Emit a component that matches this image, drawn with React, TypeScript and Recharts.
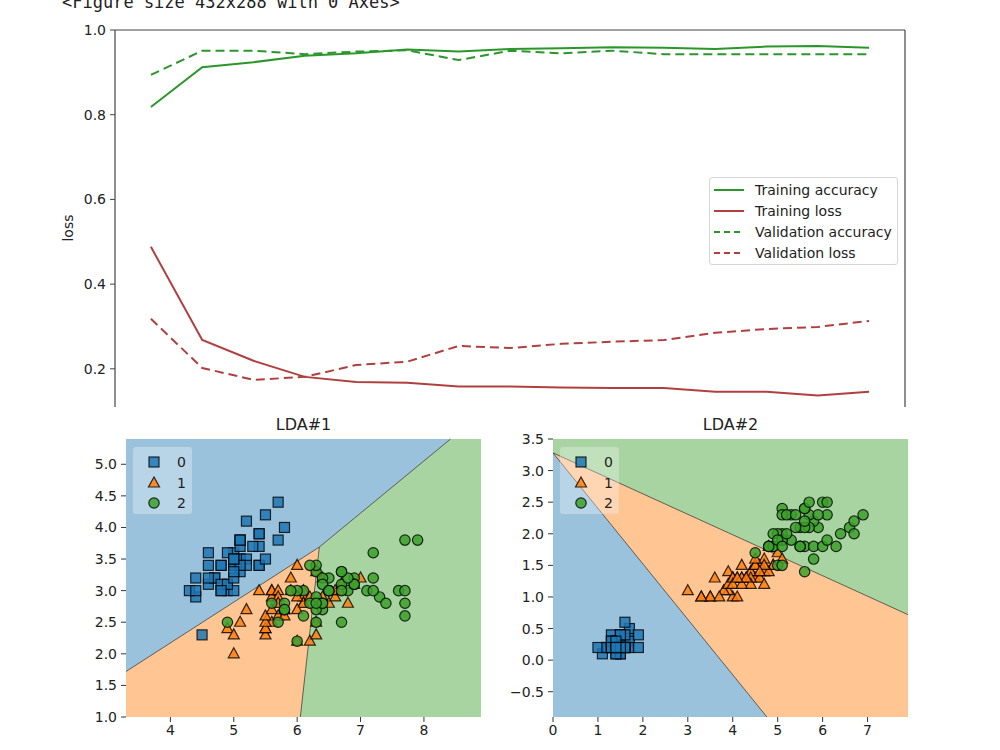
import React from 'react'
import {
  LineChart,
  Line,
  ComposedChart,
  Area,
  Scatter,
  XAxis,
  YAxis,
  CartesianGrid,
  ReferenceLine,
  Legend
} from 'recharts'

// --- training history ---
const epochs = [0, 1, 2, 3, 4, 5, 6, 7, 8, 9, 10, 11, 12, 13, 14]
const trainingAccuracy = [0.818, 0.912, 0.924, 0.939, 0.945, 0.954, 0.949, 0.955, 0.957, 0.959, 0.958, 0.955, 0.961, 0.962, 0.958]
const trainingLoss = [0.488, 0.268, 0.219, 0.181, 0.169, 0.167, 0.158, 0.158, 0.156, 0.155, 0.155, 0.146, 0.146, 0.137, 0.146]
const validationAccuracy = [0.894, 0.951, 0.951, 0.943, 0.949, 0.952, 0.929, 0.951, 0.945, 0.951, 0.943, 0.943, 0.943, 0.943, 0.943]
const validationLoss = [0.318, 0.202, 0.174, 0.181, 0.209, 0.217, 0.254, 0.249, 0.259, 0.264, 0.268, 0.285, 0.294, 0.299, 0.313]
const historyTicks = [0.2, 0.4, 0.6, 0.8, 1.0]

// --- iris rows: sepal length, sepal width, petal length, petal width ---
const setosa = [
  [5.1, 3.5, 1.4, 0.2], [4.9, 3.0, 1.4, 0.2], [4.7, 3.2, 1.3, 0.2], [4.6, 3.1, 1.5, 0.2], [5.0, 3.6, 1.4, 0.2],
  [5.4, 3.9, 1.7, 0.4], [4.6, 3.4, 1.4, 0.3], [5.0, 3.4, 1.5, 0.2], [4.4, 2.9, 1.4, 0.2], [4.9, 3.1, 1.5, 0.1],
  [5.4, 3.7, 1.5, 0.2], [4.8, 3.4, 1.6, 0.2], [4.8, 3.0, 1.4, 0.1], [4.3, 3.0, 1.1, 0.1], [5.8, 4.0, 1.2, 0.2],
  [5.7, 4.4, 1.5, 0.4], [5.4, 3.9, 1.3, 0.4], [5.1, 3.5, 1.4, 0.3], [5.7, 3.8, 1.7, 0.3], [5.1, 3.8, 1.5, 0.3],
  [5.4, 3.4, 1.7, 0.2], [5.1, 3.7, 1.5, 0.4], [4.6, 3.6, 1.0, 0.2], [5.1, 3.3, 1.7, 0.5], [4.8, 3.4, 1.9, 0.2],
  [5.0, 3.0, 1.6, 0.2], [5.0, 3.4, 1.6, 0.4], [5.2, 3.5, 1.5, 0.2], [5.2, 3.4, 1.4, 0.2], [4.7, 3.2, 1.6, 0.2],
  [4.8, 3.1, 1.6, 0.2], [5.4, 3.4, 1.5, 0.4], [5.2, 4.1, 1.5, 0.1], [5.5, 4.2, 1.4, 0.2], [4.9, 3.1, 1.5, 0.2],
  [5.0, 3.2, 1.2, 0.2], [5.5, 3.5, 1.3, 0.2], [4.9, 3.6, 1.4, 0.1], [4.4, 3.0, 1.3, 0.2], [5.1, 3.4, 1.5, 0.2],
  [5.0, 3.5, 1.3, 0.3], [4.5, 2.3, 1.3, 0.3], [4.4, 3.2, 1.3, 0.2], [5.0, 3.5, 1.6, 0.6], [5.1, 3.8, 1.9, 0.4],
  [4.8, 3.0, 1.4, 0.3], [5.1, 3.8, 1.6, 0.2], [4.6, 3.2, 1.4, 0.2], [5.3, 3.7, 1.5, 0.2], [5.0, 3.3, 1.4, 0.2]
]
const versicolor = [
  [7.0, 3.2, 4.7, 1.4], [6.4, 3.2, 4.5, 1.5], [6.9, 3.1, 4.9, 1.5], [5.5, 2.3, 4.0, 1.3], [6.5, 2.8, 4.6, 1.5],
  [5.7, 2.8, 4.5, 1.3], [6.3, 3.3, 4.7, 1.6], [4.9, 2.4, 3.3, 1.0], [6.6, 2.9, 4.6, 1.3], [5.2, 2.7, 3.9, 1.4],
  [5.0, 2.0, 3.5, 1.0], [5.9, 3.0, 4.2, 1.5], [6.0, 2.2, 4.0, 1.0], [6.1, 2.9, 4.7, 1.4], [5.6, 2.9, 3.6, 1.3],
  [6.7, 3.1, 4.4, 1.4], [5.6, 3.0, 4.5, 1.5], [5.8, 2.7, 4.1, 1.0], [6.2, 2.2, 4.5, 1.5], [5.6, 2.5, 3.9, 1.1],
  [5.9, 3.2, 4.8, 1.8], [6.1, 2.8, 4.0, 1.3], [6.3, 2.5, 4.9, 1.5], [6.1, 2.8, 4.7, 1.2], [6.4, 2.9, 4.3, 1.3],
  [6.6, 3.0, 4.4, 1.4], [6.8, 2.8, 4.8, 1.4], [6.7, 3.0, 5.0, 1.7], [6.0, 2.9, 4.5, 1.5], [5.7, 2.6, 3.5, 1.0],
  [5.5, 2.4, 3.8, 1.1], [5.5, 2.4, 3.7, 1.0], [5.8, 2.7, 3.9, 1.2], [6.0, 2.7, 5.1, 1.6], [5.4, 3.0, 4.5, 1.5],
  [6.0, 3.4, 4.5, 1.6], [6.7, 3.1, 4.7, 1.5], [6.3, 2.3, 4.4, 1.3], [5.6, 3.0, 4.1, 1.3], [5.5, 2.5, 4.0, 1.3],
  [5.5, 2.6, 4.4, 1.2], [6.1, 3.0, 4.6, 1.4], [5.8, 2.6, 4.0, 1.2], [5.0, 2.3, 3.3, 1.0], [5.6, 2.7, 4.2, 1.3],
  [5.7, 3.0, 4.2, 1.2], [5.7, 2.9, 4.2, 1.3], [6.2, 2.9, 4.3, 1.3], [5.1, 2.5, 3.0, 1.1], [5.7, 2.8, 4.1, 1.3]
]
const virginica = [
  [6.3, 3.3, 6.0, 2.5], [5.8, 2.7, 5.1, 1.9], [7.1, 3.0, 5.9, 2.1], [6.3, 2.9, 5.6, 1.8], [6.5, 3.0, 5.8, 2.2],
  [7.6, 3.0, 6.6, 2.1], [4.9, 2.5, 4.5, 1.7], [7.3, 2.9, 6.3, 1.8], [6.7, 2.5, 5.8, 1.8], [7.2, 3.6, 6.1, 2.5],
  [6.5, 3.2, 5.1, 2.0], [6.4, 2.7, 5.3, 1.9], [6.8, 3.0, 5.5, 2.1], [5.7, 2.5, 5.0, 2.0], [5.8, 2.8, 5.1, 2.4],
  [6.4, 3.2, 5.3, 2.3], [6.5, 3.0, 5.5, 1.8], [7.7, 3.8, 6.7, 2.2], [7.7, 2.6, 6.9, 2.3], [6.0, 2.2, 5.0, 1.5],
  [6.9, 3.2, 5.7, 2.3], [5.6, 2.8, 4.9, 2.0], [7.7, 2.8, 6.7, 2.0], [6.3, 2.7, 4.9, 1.8], [6.7, 3.3, 5.7, 2.1],
  [7.2, 3.2, 6.0, 1.8], [6.2, 2.8, 4.8, 1.8], [6.1, 3.0, 4.9, 1.8], [6.4, 2.8, 5.6, 2.1], [7.2, 3.0, 5.8, 1.6],
  [7.4, 2.8, 6.1, 1.9], [7.9, 3.8, 6.4, 2.0], [6.4, 2.8, 5.6, 2.2], [6.3, 2.8, 5.1, 1.5], [6.1, 2.6, 5.6, 1.4],
  [7.7, 3.0, 6.1, 2.3], [6.3, 3.4, 5.6, 2.4], [6.4, 3.1, 5.5, 1.8], [6.0, 3.0, 4.8, 1.8], [6.9, 3.1, 5.4, 2.1],
  [6.7, 3.1, 5.6, 2.4], [6.9, 3.1, 5.1, 2.3], [5.8, 2.7, 5.1, 1.9], [6.8, 3.2, 5.9, 2.3], [6.7, 3.3, 5.7, 2.5],
  [6.7, 3.0, 5.2, 2.3], [6.3, 2.5, 5.0, 1.9], [6.5, 3.0, 5.2, 2.0], [6.2, 3.4, 5.4, 2.3], [5.9, 3.0, 5.1, 1.8]
]

// --- decision regions (vertices in data units) ---
const sepalBlueRegion = [
  { x: 3.3, band: [1.72, 5.4] },
  { x: 6.35, band: [3.69, 5.4] },
  { x: 8.42, band: [5.4, 5.4] }
]
const sepalGreenRegion = [
  { x: 6.05, band: [1.0, 1.0] },
  { x: 6.35, band: [1.0, 3.69] },
  { x: 8.42, band: [1.0, 5.4] },
  { x: 8.9, band: [1.0, 5.4] }
]
const sepalBoundaries = [
  [{ x: 3.3, y: 1.72 }, { x: 6.35, y: 3.69 }],
  [{ x: 6.35, y: 3.69 }, { x: 8.42, y: 5.4 }],
  [{ x: 6.05, y: 1.0 }, { x: 6.35, y: 3.69 }]
]
const petalBlueRegion = [
  { x: 0, band: [-0.9, 3.28] },
  { x: 4.76, band: [-0.9, -0.9] }
]
const petalGreenRegion = [
  { x: 0, band: [3.28, 3.5] },
  { x: 7.9, band: [0.72, 3.5] }
]
const petalBoundaries = [
  [{ x: 0, y: 3.28 }, { x: 4.76, y: -0.9 }],
  [{ x: 0, y: 3.28 }, { x: 7.9, y: 0.72 }]
]

const FONT = '"DejaVu Sans", sans-serif'
const GREEN = '#2b972b'
const RED = '#b0403f'
const SPINE = '#444'
const C0 = '#1f77b4'
const C1 = '#ff7f0e'
const C2 = '#3ca02c'
const REGION_BLUE = '#9ac2dd'
const REGION_ORANGE = '#ffc592'
const REGION_GREEN = '#a7d4a0'

const historyRows = epochs.map((epoch, i) => ({
  epoch,
  trainAcc: trainingAccuracy[i],
  trainLoss: trainingLoss[i],
  valAcc: validationAccuracy[i],
  valLoss: validationLoss[i]
}))

const historyLegend = [
  { label: 'Training accuracy', color: GREEN, dash: undefined },
  { label: 'Training loss', color: RED, dash: undefined },
  { label: 'Validation accuracy', color: GREEN, dash: '6 4' },
  { label: 'Validation loss', color: RED, dash: '6 4' }
]

function HistoryLegend() {
  return (
    <div
      style={{
        width: 189,
        boxSizing: 'border-box',
        background: '#fff',
        border: '1px solid #d6d6d6',
        borderRadius: 3,
        padding: '1px 4px',
        fontFamily: FONT,
        fontSize: 14,
        color: '#222'
      }}
    >
      {historyLegend.map(item => (
        <div key={item.label} style={{ display: 'flex', alignItems: 'center', height: 21 }}>
          <svg width={30} height={6} style={{ marginRight: 11 }}>
            <line x1={0} x2={30} y1={3} y2={3} stroke={item.color} strokeWidth={2} strokeDasharray={item.dash} />
          </svg>
          <span>{item.label}</span>
        </div>
      ))}
    </div>
  )
}

function HistoryChart() {
  return (
    <LineChart width={1000} height={430} data={historyRows} margin={{ top: 30, right: 95, bottom: 4, left: 55 }}>
      <XAxis dataKey="epoch" type="number" domain={[-0.7, 14.7]} allowDataOverflow hide />
      <YAxis
        type="number"
        domain={[0.065, 1]}
        allowDataOverflow
        ticks={historyTicks}
        tickFormatter={v => v.toFixed(1)}
        width={60}
        tickSize={5}
        tickMargin={4}
        axisLine={{ stroke: SPINE, strokeWidth: 1.2 }}
        tickLine={{ stroke: SPINE }}
        tick={{ fontSize: 14, fill: '#222', fontFamily: FONT }}
      />
      <ReferenceLine y={1} stroke={SPINE} strokeWidth={1.2} />
      <ReferenceLine x={14.7} stroke={SPINE} strokeWidth={1.2} />
      <Line dataKey="trainAcc" stroke={GREEN} strokeWidth={2} dot={false} isAnimationActive={false} />
      <Line dataKey="trainLoss" stroke={RED} strokeWidth={2} dot={false} isAnimationActive={false} />
      <Line dataKey="valAcc" stroke={GREEN} strokeWidth={2} strokeDasharray="9 5" dot={false} isAnimationActive={false} />
      <Line dataKey="valLoss" stroke={RED} strokeWidth={2} strokeDasharray="9 5" dot={false} isAnimationActive={false} />
      <Legend
        layout="horizontal"
        verticalAlign="middle"
        align="center"
        content={() => <HistoryLegend />}
        wrapperStyle={{ left: 709, top: 177, width: 189 }}
      />
    </LineChart>
  )
}

// --- markers ---
function SquareMark({ cx, cy }: any) {
  return (
    <rect x={cx - 5} y={cy - 5} width={10} height={10} fill={C0} fillOpacity={0.85} stroke="#000" strokeOpacity={0.8} strokeWidth={1.2} />
  )
}
function TriangleMark({ cx, cy }: any) {
  return (
    <polygon
      points={`${cx},${cy - 6} ${cx - 5.5},${cy + 4} ${cx + 5.5},${cy + 4}`}
      fill={C1}
      fillOpacity={0.85}
      stroke="#000"
      strokeOpacity={0.8}
      strokeWidth={1.2}
    />
  )
}
function CircleMark({ cx, cy }: any) {
  return <circle cx={cx} cy={cy} r={5.2} fill={C2} fillOpacity={0.85} stroke="#000" strokeOpacity={0.8} strokeWidth={1.2} />
}

const markers = [
  { label: '0', Mark: SquareMark },
  { label: '1', Mark: TriangleMark },
  { label: '2', Mark: CircleMark }
]

function ClassLegend() {
  return (
    <div
      style={{
        width: 59,
        height: 67,
        boxSizing: 'border-box',
        background: 'rgba(255,255,255,0.3)',
        border: '1px solid rgba(204,204,204,0.3)',
        borderRadius: 3,
        paddingTop: 4,
        fontFamily: FONT,
        fontSize: 14,
        color: '#222'
      }}
    >
      {markers.map(({ label, Mark }) => (
        <div key={label} style={{ display: 'flex', alignItems: 'center', height: 20.5 }}>
          <svg width={40} height={16}>
            <Mark cx={20} cy={8} />
          </svg>
          <span style={{ width: 20, textAlign: 'center' }}>{label}</span>
        </div>
      ))}
    </div>
  )
}

interface IrisPanelProps {
  title: string
  left: number
  xIdx: number
  yIdx: number
  xDomain: [number, number]
  yDomain: [number, number]
  xTicks: number[]
  yTicks: number[]
  xFormat: (v: number) => string
  yFormat: (v: number) => string
  blueRegion: Array<{ x: number; band: number[] }>
  greenRegion: Array<{ x: number; band: number[] }>
  boundaries: Array<Array<{ x: number; y: number }>>
}

function IrisPanel(p: IrisPanelProps) {
  const pts = (rows: number[][]) => rows.map(r => ({ x: r[p.xIdx], y: r[p.yIdx] }))
  const tickStyle = { fontSize: 14, fill: '#222', fontFamily: FONT }
  return (
    <div style={{ position: 'absolute', left: p.left, top: 3 }}>
      <div
        style={{
          position: 'absolute',
          left: 0,
          width: 440,
          top: 5,
          paddingLeft: 66,
          paddingRight: 19,
          boxSizing: 'border-box',
          textAlign: 'center',
          fontFamily: FONT,
          fontSize: 16,
          color: '#222'
        }}
      >
        {p.title}
      </div>
      <ComposedChart width={440} height={340} margin={{ top: 29, right: 19, bottom: 3, left: 20 }}>
        <CartesianGrid horizontal={false} vertical={false} fill={REGION_ORANGE} fillOpacity={1} />
        <XAxis
          dataKey="x"
          type="number"
          domain={p.xDomain}
          allowDataOverflow
          ticks={p.xTicks}
          tickFormatter={p.xFormat}
          height={30}
          axisLine={false}
          tickSize={5}
          tickMargin={3}
          tickLine={{ stroke: '#333' }}
          tick={tickStyle}
        />
        <YAxis
          dataKey="y"
          type="number"
          domain={p.yDomain}
          allowDataOverflow
          ticks={p.yTicks}
          tickFormatter={p.yFormat}
          width={46}
          axisLine={false}
          tickSize={5}
          tickMargin={4}
          tickLine={{ stroke: '#333' }}
          tick={tickStyle}
        />
        <Area
          data={p.blueRegion}
          dataKey="band"
          type="linear"
          fill={REGION_BLUE}
          fillOpacity={1}
          stroke="none"
          dot={false}
          activeDot={false}
          isAnimationActive={false}
        />
        <Area
          data={p.greenRegion}
          dataKey="band"
          type="linear"
          fill={REGION_GREEN}
          fillOpacity={1}
          stroke="none"
          dot={false}
          activeDot={false}
          isAnimationActive={false}
        />
        {p.boundaries.map((seg, i) => (
          <ReferenceLine key={i} segment={seg} stroke="#333" strokeWidth={0.9} strokeOpacity={0.8} />
        ))}
        <Scatter name="0" data={pts(setosa)} shape={SquareMark} isAnimationActive={false} />
        <Scatter name="1" data={pts(versicolor)} shape={TriangleMark} isAnimationActive={false} />
        <Scatter name="2" data={pts(virginica)} shape={CircleMark} isAnimationActive={false} />
        <Legend
          layout="horizontal"
          verticalAlign="middle"
          align="center"
          content={() => <ClassLegend />}
          wrapperStyle={{ left: 73, top: 37, width: 59 }}
        />
      </ComposedChart>
    </div>
  )
}

const oneDecimal = (v: number) => (v < 0 ? '\u2212' + Math.abs(v).toFixed(1) : v.toFixed(1))
const integer = (v: number) => String(v)

export default function App() {
  return (
    <div
      style={{
        position: 'absolute',
        left: 0,
        top: 0,
        width: 1000,
        height: 750,
        background: '#fff',
        overflow: 'hidden',
        fontFamily: FONT
      }}
    >
      <div
        style={{
          position: 'absolute',
          left: 62,
          top: -6,
          fontFamily: '"DejaVu Sans Mono", monospace',
          fontSize: 17,
          lineHeight: '17px',
          color: '#222',
          whiteSpace: 'pre'
        }}
      >
        {'<Figure size 432x288 with 0 Axes>'}
      </div>
      <div style={{ position: 'absolute', left: 0, top: 0 }}>
        <HistoryChart />
      </div>
      <div
        style={{
          position: 'absolute',
          left: 48,
          top: 220,
          width: 40,
          lineHeight: '16px',
          textAlign: 'center',
          fontSize: 14,
          color: '#222',
          transform: 'rotate(-90deg)'
        }}
      >
        loss
      </div>
      <div style={{ position: 'absolute', left: 0, top: 407, width: 1000, height: 343, background: '#fff' }}>
        <IrisPanel
          title="LDA#1"
          left={60}
          xIdx={0}
          yIdx={1}
          xDomain={[3.3, 8.9]}
          yDomain={[1.0, 5.4]}
          xTicks={[4, 5, 6, 7, 8]}
          yTicks={[1.0, 1.5, 2.0, 2.5, 3.0, 3.5, 4.0, 4.5, 5.0]}
          xFormat={integer}
          yFormat={oneDecimal}
          blueRegion={sepalBlueRegion}
          greenRegion={sepalGreenRegion}
          boundaries={sepalBoundaries}
        />
        <IrisPanel
          title="LDA#2"
          left={487}
          xIdx={2}
          yIdx={3}
          xDomain={[0, 7.9]}
          yDomain={[-0.9, 3.5]}
          xTicks={[0, 1, 2, 3, 4, 5, 6, 7]}
          yTicks={[-0.5, 0.0, 0.5, 1.0, 1.5, 2.0, 2.5, 3.0, 3.5]}
          xFormat={integer}
          yFormat={oneDecimal}
          blueRegion={petalBlueRegion}
          greenRegion={petalGreenRegion}
          boundaries={petalBoundaries}
        />
      </div>
    </div>
  )
}
